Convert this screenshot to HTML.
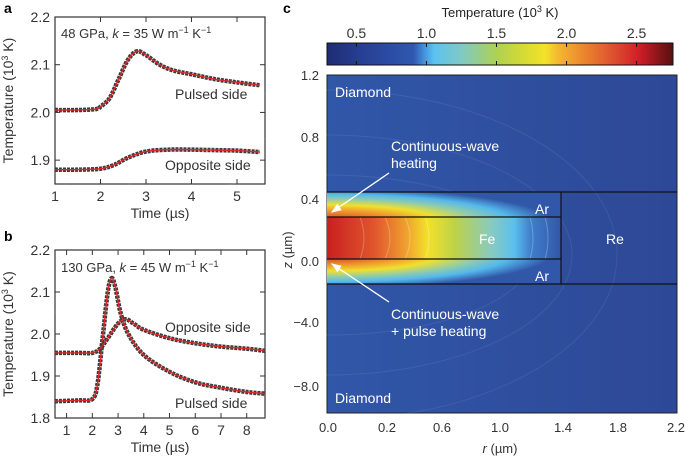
<!DOCTYPE html>
<html><head><meta charset="utf-8"><style>
body{margin:0;background:#fff;}
svg{display:block;font-family:"Liberation Sans",sans-serif;}
</style></head><body>
<svg id="fig" width="685" height="457" viewBox="0 0 685 457" xmlns="http://www.w3.org/2000/svg">
<defs>
<linearGradient id="cbar" x1="0" x2="1" y1="0" y2="0">
<stop offset="0" stop-color="#1e2c72"/><stop offset="0.09" stop-color="#263d92"/><stop offset="0.25" stop-color="#2f58b0"/>
<stop offset="0.29" stop-color="#4aa2e6"/><stop offset="0.31" stop-color="#5cc2ef"/><stop offset="0.39" stop-color="#80c9c4"/>
<stop offset="0.49" stop-color="#aed152"/><stop offset="0.57" stop-color="#d6db34"/><stop offset="0.63" stop-color="#f3e22a"/>
<stop offset="0.67" stop-color="#f4b631"/><stop offset="0.74" stop-color="#ec872e"/><stop offset="0.82" stop-color="#de5530"/>
<stop offset="0.9" stop-color="#d21e27"/><stop offset="1" stop-color="#561010"/>
</linearGradient>
<linearGradient id="bg" x1="0" x2="1" y1="0" y2="0"><stop offset="0" stop-color="#3157a8"/><stop offset="1" stop-color="#2d4896"/></linearGradient>
<linearGradient id="fe" gradientUnits="userSpaceOnUse" x1="327" x2="561" y1="0" y2="0">
<stop offset="0" stop-color="#c8201f"/><stop offset="0.2" stop-color="#e0552c"/><stop offset="0.33" stop-color="#f09a30"/>
<stop offset="0.43" stop-color="#f3e02a"/><stop offset="0.55" stop-color="#bcd24a"/><stop offset="0.7" stop-color="#88cbbf"/>
<stop offset="0.8" stop-color="#5ac0ee"/><stop offset="0.87" stop-color="#3f7fcc"/><stop offset="1" stop-color="#3256a8"/>
</linearGradient>
<radialGradient id="arT" gradientUnits="userSpaceOnUse" cx="327" cy="222" r="1" gradientTransform="translate(327 222) scale(225 34) translate(-327 -222)">
<stop offset="0" stop-color="#d42a22"/><stop offset="0.35" stop-color="#f0a030"/><stop offset="0.5" stop-color="#f0e02c"/>
<stop offset="0.68" stop-color="#8ccbb0"/><stop offset="0.82" stop-color="#55b8ec"/><stop offset="1" stop-color="#3157a8"/>
</radialGradient>
<radialGradient id="arB" gradientUnits="userSpaceOnUse" cx="327" cy="254" r="1" gradientTransform="translate(327 254) scale(225 34) translate(-327 -254)">
<stop offset="0" stop-color="#c81e1e"/><stop offset="0.35" stop-color="#f0a030"/><stop offset="0.5" stop-color="#f0e02c"/>
<stop offset="0.68" stop-color="#8ccbb0"/><stop offset="0.82" stop-color="#55b8ec"/><stop offset="1" stop-color="#3157a8"/>
</radialGradient>
<marker id="ah" markerWidth="8" markerHeight="8" refX="7" refY="4" orient="auto"><path d="M0,1 L8,4 L0,7 Z" fill="#fff"/></marker>
</defs>

<text x="4" y="13" font-weight="bold" font-size="14">a</text>
<text x="4" y="241" font-weight="bold" font-size="14">b</text>
<text x="283" y="13" font-weight="bold" font-size="14">c</text>

<g id="pa"></g>
<g id="pb"></g>

<g>
<text x="500" y="17" text-anchor="middle" font-size="13" fill="#222">Temperature (10<tspan dy="-5" font-size="9">3</tspan><tspan dy="5"> K)</tspan></text>
<rect x="327" y="43" width="346" height="22" fill="url(#cbar)" stroke="#111" stroke-width="1"/>
<g id="cbticks"></g>
<rect x="327" y="75" width="350" height="338" fill="url(#bg)" stroke="#222"/>
<g fill="none" stroke="#fff" stroke-opacity="0.08" stroke-width="1">
<ellipse cx="327" cy="255" rx="290" ry="165"/><ellipse cx="327" cy="255" rx="245" ry="120"/><ellipse cx="327" cy="255" rx="205" ry="80"/>
</g>
<rect x="327" y="192" width="234" height="25" fill="url(#arT)"/>
<rect x="327" y="259" width="234" height="25" fill="url(#arB)"/>
<rect x="327" y="217" width="234" height="42" fill="url(#fe)"/>
<g fill="none" stroke="#fff" stroke-opacity="0.25">
<path d="M360,217 q8,21 0,42"/><path d="M385,217 q10,21 0,42"/><path d="M405,217 q10,21 0,42"/><path d="M425,217 q8,21 0,42"/><path d="M545,217 q6,21 0,42"/><path d="M530,217 q6,21 0,42"/>
</g>
<g fill="none" stroke="#111" stroke-width="1.2">
<line x1="327" y1="192" x2="677" y2="192"/><line x1="327" y1="284" x2="677" y2="284"/>
<line x1="327" y1="217" x2="561" y2="217"/><line x1="327" y1="259" x2="561" y2="259"/>
<line x1="561" y1="192" x2="561" y2="284"/>
</g>
<g fill="#fff" font-size="14">
<text x="335" y="97">Diamond</text>
<text x="335" y="403">Diamond</text>
<text x="391" y="151">Continuous-wave</text>
<text x="391" y="168">heating</text>
<text x="391" y="319">Continuous-wave</text>
<text x="391" y="336">+ pulse heating</text>
<text x="535" y="214">Ar</text>
<text x="535" y="281">Ar</text>
<text x="479" y="244">Fe</text>
<text x="606" y="244">Re</text>
</g>
<line x1="389" y1="173" x2="332" y2="212" stroke="#fff" stroke-width="1.3" marker-end="url(#ah)"/>
<line x1="389" y1="302" x2="332" y2="264" stroke="#fff" stroke-width="1.3" marker-end="url(#ah)"/>
<g font-size="13" fill="#333" text-anchor="end">
<text x="319" y="80">1.2</text><text x="319" y="142">0.8</text><text x="319" y="204">0.4</text><text x="319" y="266">0.0</text>
<text x="319" y="327">−4.0</text><text x="319" y="391">−8.0</text>
</g>
<g font-size="13" fill="#333" text-anchor="middle">
<text x="328" y="432">0.0</text><text x="387" y="432">0.2</text><text x="442" y="432">0.6</text><text x="500" y="432">1.0</text>
<text x="563" y="432">1.4</text><text x="618" y="432">1.8</text><text x="676" y="432">2.2</text>
</g>
<text x="500" y="453" text-anchor="middle" font-size="13" fill="#333"><tspan font-style="italic">r</tspan> (µm)</text>
<text transform="translate(292 250) rotate(-90)" text-anchor="middle" font-size="13" fill="#333"><tspan font-style="italic">z</tspan> (µm)</text>
</g>
</svg>
<script>
// Panel a data
const aPulsedT=[1,1.5,1.9,2.0,2.2,2.4,2.6,2.8,3.0,3.3,3.6,4.0,4.5,5.0,5.5];
const aPulsedV=[2.005,2.005,2.007,2.012,2.03,2.07,2.11,2.128,2.12,2.1,2.088,2.08,2.07,2.063,2.057];
const aOppT=[1,1.5,2.0,2.3,2.6,3.0,3.5,4.0,4.5,5.0,5.5];
const aOppV=[1.88,1.88,1.882,1.89,1.905,1.918,1.922,1.922,1.921,1.92,1.917];
const aXTicks=[1,2,3,4,5];
const aYTicks=[1.9,2.0,2.1,2.2];
// Panel b data
const bPulsedT=[0.55,1.5,2.0,2.2,2.4,2.6,2.75,2.9,3.1,3.4,4,5,6,7,8,8.7];
const bPulsedV=[1.84,1.842,1.845,1.88,1.99,2.1,2.133,2.11,2.05,2.0,1.95,1.91,1.885,1.872,1.862,1.858];
const bOppT=[0.55,1.5,2.0,2.3,2.6,3.0,3.3,3.6,4,5,6,7,8,8.7];
const bOppV=[1.955,1.955,1.955,1.965,1.99,2.025,2.035,2.025,2.01,1.99,1.978,1.97,1.965,1.96];
const bXTicks=[1,2,3,4,5,6,7,8];
const bYTicks=[1.8,1.9,2.0,2.1,2.2];
// colorbar
const cbTicks=[0.5,1.0,1.5,2.0,2.5];

const NS="http://www.w3.org/2000/svg";
function mk(tag,attrs,parent){const e=document.createElementNS(NS,tag);for(const k in attrs)e.setAttribute(k,attrs[k]);parent.appendChild(e);return e;}
function pathFrom(xs,ys){let p=[];for(let i=0;i<xs.length;i++)p.push([xs[i],ys[i]]);
 let d="M"+p[0][0]+","+p[0][1];
 for(let i=0;i<p.length-1;i++){const p0=p[Math.max(0,i-1)],p1=p[i],p2=p[i+1],p3=p[Math.min(p.length-1,i+2)];
  const c1x=p1[0]+(p2[0]-p0[0])/6,c1y=p1[1]+(p2[1]-p0[1])/6,c2x=p2[0]-(p3[0]-p1[0])/6,c2y=p2[1]-(p3[1]-p1[1])/6;
  d+=" C"+c1x+","+c1y+" "+c2x+","+c2y+" "+p2[0]+","+p2[1];}
 return d;}

function panel(g,cfg){
 const {x0,x1,y0,y1,tmin,tmax,vmin,vmax}=cfg;
 const X=t=>x0+(t-tmin)/(tmax-tmin)*(x1-x0);
 const Y=v=>y1-(v-vmin)/(vmax-vmin)*(y1-y0);
 const box=mk("rect",{x:x0,y:y0,width:x1-x0,height:y1-y0,fill:"none",stroke:"#333","stroke-width":1.2},g);
 
 
 cfg.xt.forEach(t=>{const x=X(t);
  mk("line",{x1:x,x2:x,y1:y1,y2:y1-5,stroke:"#333"},g);mk("line",{x1:x,x2:x,y1:y0,y2:y0+5,stroke:"#333"},g);
  const tx=mk("text",{x:x,y:y1+17,"text-anchor":"middle","font-size":14,fill:"#333"},g);tx.textContent=t;
  
  });
 cfg.yt.forEach(v=>{const y=Y(v);
  mk("line",{x1:x0,x2:x0+5,y1:y,y2:y,stroke:"#333"},g);mk("line",{x1:x1,x2:x1-5,y1:y,y2:y,stroke:"#333"},g);
  const tx=mk("text",{x:x0-5,y:y+5,"text-anchor":"end","font-size":14,fill:"#333"},g);tx.textContent=v.toFixed(1);
  
  });
 cfg.series.forEach(s=>{
  const xs=s.t.map(X),ys=s.v.map(Y);
  const dp=mk("path",{d:pathFrom(xs,ys),fill:"none",stroke:"#3a3a3a","stroke-width":4.5,"stroke-dasharray":"3 1"},g);
  
  
  const fp=mk("path",{d:pathFrom(xs,ys),fill:"none",stroke:"#e0262a","stroke-width":1.4},g);
  
  
 });
 cfg.labels.forEach(l=>{const tx=mk("text",{x:l[0],y:l[1],"font-size":l[3]||14,fill:"#333"},g);tx.innerHTML=l[2];
  
  });
 const xl=mk("text",{x:(x0+x1)/2,y:y1+34,"text-anchor":"middle","font-size":14,fill:"#333"},g);xl.textContent="Time (µs)";
 
 
 const yl=mk("text",{transform:"translate(13 "+((y0+y1)/2)+") rotate(-90)","text-anchor":"middle","font-size":14,fill:"#333"},g);
 yl.innerHTML='Temperature (10<tspan dy="-5" font-size="9">3</tspan><tspan dy="5"> K)</tspan>';
 
 
}
panel(document.getElementById("pa"),{x0:55,x1:265,y0:17,y1:184,tmin:1,tmax:5.615,vmin:1.85,vmax:2.2,xt:aXTicks,yt:aYTicks,
 series:[{name:"a-pulsed",t:aPulsedT,v:aPulsedV},{name:"a-opposite",t:aOppT,v:aOppV}],
 labels:[[61,38,'48 GPa, <tspan font-style="italic">k</tspan> = 35 W m<tspan dy="-5" font-size="9">−1</tspan><tspan dy="5"> K</tspan><tspan dy="-5" font-size="9">−1</tspan>',13],[175,99,"Pulsed side"],[165,170,"Opposite side"]]});
panel(document.getElementById("pb"),{x0:55,x1:265,y0:250,y1:418,tmin:0.55,tmax:8.71,vmin:1.8,vmax:2.2,xt:bXTicks,yt:bYTicks,
 series:[{name:"b-pulsed",t:bPulsedT,v:bPulsedV},{name:"b-opposite",t:bOppT,v:bOppV}],
 labels:[[61,272,'130 GPa, <tspan font-style="italic">k</tspan> = 45 W m<tspan dy="-5" font-size="9">−1</tspan><tspan dy="5"> K</tspan><tspan dy="-5" font-size="9">−1</tspan>',13],[165,332,"Opposite side"],[175,408,"Pulsed side"]]});
const cb=document.getElementById("cbticks");
const CX=v=>327+(v-0.29)/(2.76-0.29)*346;
cbTicks.forEach(v=>{const x=CX(v);
 mk("line",{x1:x,x2:x,y1:43,y2:47,stroke:"#111"},cb);mk("line",{x1:x,x2:x,y1:65,y2:61,stroke:"#111"},cb);
 const tx=mk("text",{x:x,y:38,"text-anchor":"middle","font-size":14,fill:"#333"},cb);tx.textContent=v.toFixed(1);
 
 });
</script>
</body></html>
